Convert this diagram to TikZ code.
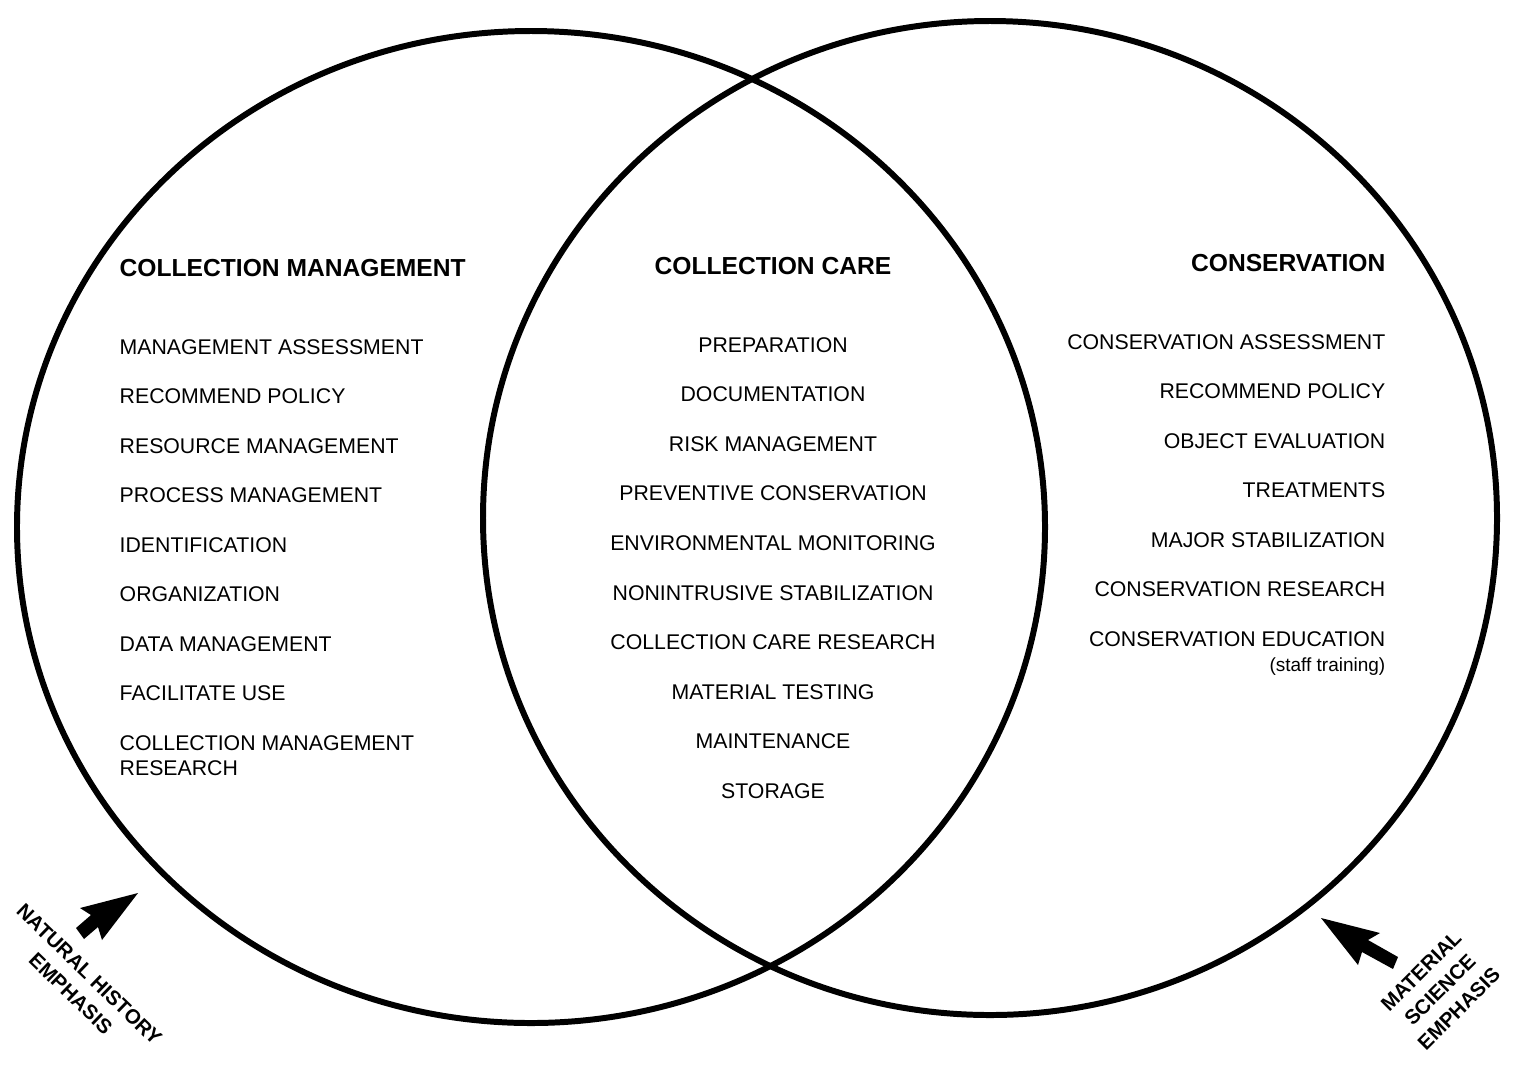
\documentclass[tikz,border=0pt]{standalone}
\usepackage{fontspec}
\setmainfont{Liberation Sans}
\begin{document}
\begin{tikzpicture}[x=0.01cm,y=-0.01cm,
  ring/.style={line width=1.7pt},
  item/.style={inner sep=0pt,font=\fontsize{6.05}{7}\selectfont},
  ttl/.style={inner sep=0pt,font=\fontsize{7}{8}\selectfont\bfseries},
  emph/.style={inner sep=0pt,align=center,font=\fontsize{5.8}{7.6}\selectfont\bfseries}]
\useasboundingbox (0,0) rectangle (1534,1072);
\draw[ring] (531,527) ellipse [x radius=514,y radius=496];
\draw[ring] (990,518) ellipse [x radius=507,y radius=497];
% left
\node[ttl,anchor=base west] (t1) at (119,276) {COLLECTION MANAGEMENT};
\foreach \t [count=\i] in {MANAGEMENT ASSESSMENT,RECOMMEND POLICY,RESOURCE MANAGEMENT,PROCESS MANAGEMENT,IDENTIFICATION,ORGANIZATION,DATA MANAGEMENT,FACILITATE USE,COLLECTION MANAGEMENT}
  \node[item,anchor=base west] (l\i) at (119,{354+49.5*(\i-1)}) {\t};
\node[item,anchor=base west] (l10) at (119,775) {RESEARCH};
% center
\node[ttl,anchor=base] (t2) at (773,274) {COLLECTION CARE};
\foreach \t [count=\i] in {PREPARATION,DOCUMENTATION,RISK MANAGEMENT,PREVENTIVE CONSERVATION,ENVIRONMENTAL MONITORING,NONINTRUSIVE STABILIZATION,COLLECTION CARE RESEARCH,MATERIAL TESTING,MAINTENANCE,STORAGE}
  \node[item,anchor=base] (c\i) at (773,{352+49.6*(\i-1)}) {\t};
% right
\node[ttl,anchor=base east] (t3) at (1386,271) {CONSERVATION};
\foreach \t [count=\i] in {CONSERVATION ASSESSMENT,RECOMMEND POLICY,OBJECT EVALUATION,TREATMENTS,MAJOR STABILIZATION,CONSERVATION RESEARCH,CONSERVATION EDUCATION}
  \node[item,anchor=base east] (r\i) at (1386,{349+49.5*(\i-1)}) {\t};
\node[inner sep=0pt,anchor=base east,font=\fontsize{5.4}{6}\selectfont] (r8) at (1386,671) {(staff training)};
% arrows
\fill (138,893) -- (80,908) -- (91,915) -- (76,928) -- (84,939) -- (98,927) -- (102,940) -- cycle;
\fill (1321,918) -- (1380,933) -- (1368,940) -- (1398,957) -- (1393,969) -- (1362,952) -- (1358,965) -- cycle;
\node[emph,rotate=-44] (e1) at (80,984) {NATURAL HISTORY\\EMPHASIS};
\node[emph,rotate=45] (e2) at (1440,990) {MATERIAL\\SCIENCE\\EMPHASIS};
\end{tikzpicture}
\end{document}
